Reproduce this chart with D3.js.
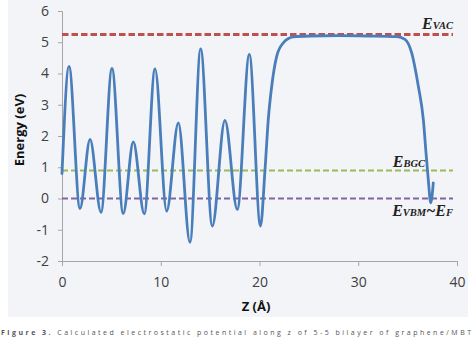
<!DOCTYPE html>
<html><head><meta charset="utf-8">
<script src="https://cdn.jsdelivr.net/npm/d3@7"></script>
<style>body{margin:0;background:#fff;}svg{display:block;}</style>
</head><body>
<svg id="c" width="474" height="337"></svg>
<script>
const zValues = [0,0.71,1.82,2.84,3.95,5.06,6.2,7.22,8.33,9.42,10.6,11.78,12.96,14.04,15.22,16.5,17.75,18.97,20.1,20.56,20.89,21.24,21.74,22.41,23.42,25.1,28,31,33.9,34.73,35.41,36.08,36.59,36.86,37.09,37.34,37.6];
const energyValues = [0.8,4.23,-0.32,1.89,-0.44,4.16,-0.48,1.81,-0.49,4.15,-0.4,2.42,-1.4,4.79,-0.88,2.5,-0.35,4.61,-0.88,0.93,2.53,3.6,4.55,4.98,5.17,5.2,5.21,5.2,5.18,5.09,4.66,3.6,2.53,1.47,0.61,-0.14,0.5];
const levelNames = ["VAC","BGC","VBM"];
const levelValues = [5.25,0.9,0];
const levelColors = ["#c0504d","#9bbb59","#8064a2"];
const xTicks = [0,10,20,30,40];
const yTicks = [-2,-1,0,1,2,3,4,5,6];

const svg = d3.select("#c");
svg.append("rect").attr("x",8).attr("y",0).attr("width",460).attr("height",317).attr("fill","#f3f4f8");

const x = d3.scaleLinear().domain([0,40]).range([62,457]);
const y = d3.scaleLinear().domain([-2,6]).range([261,11]);

const font = "'Open Sans', sans-serif";
// axes
const xa = svg.append("g").attr("transform","translate(0,261)")
  .call(d3.axisBottom(x).tickValues(xTicks).tickSize(5).tickPadding(8).tickFormat(d=>String(d)));
const ya = svg.append("g").attr("transform","translate(62,0)")
  .call(d3.axisLeft(y).tickValues(yTicks).tickSize(4).tickPadding(9).tickFormat(d=>String(d)));
[xa,ya].forEach(a=>{
  a.selectAll("path,line").attr("stroke","#a6a6a6");
  a.selectAll("text").attr("fill","#404040").style("font-family",font).style("font-size","14px");
});
xa.selectAll("text").attr("dy","0.95em");

// reference levels
const lv = levelValues.map((v,i)=>({v,c:levelColors[i],n:levelNames[i]}));
svg.selectAll("line.lvl").data(lv).enter().append("line")
  .attr("x1",x(0)).attr("x2",453)
  .attr("y1",d=>y(d.v)).attr("y2",d=>y(d.v))
  .attr("stroke",d=>d.c)
  .attr("stroke-width",(d,i)=>i===0?3:2)
  .attr("stroke-dasharray",(d,i)=>i===0?"6.5,3":"6,3");

// curve
const pts = zValues.map((z,i)=>[z,energyValues[i]]);
svg.append("path").datum(pts)
  .attr("fill","none").attr("stroke","#4a7ebb").attr("stroke-width",2.8)
  .attr("stroke-linejoin","round").attr("stroke-linecap","round")
  .attr("d",d3.line().x(d=>x(d[0])).y(d=>y(d[1])).curve(d3.curveMonotoneX));

// level labels
function elabel(xr, yb, parts){
  const t = svg.append("text").attr("x",xr).attr("y",yb).attr("text-anchor","end")
    .style("font-family","'Liberation Serif', 'Times New Roman', serif")
    .style("font-style","italic").style("font-weight","bold").attr("fill","#222");
  parts.forEach(p=>t.append("tspan").text(p[0]).style("font-size",p[1]+"px"));
}
elabel(453,29,[["E",16],[levelNames[0],10.5]]);
elabel(425,166.5,[["E",16],[levelNames[1],10.5]]);
elabel(453,216,[["E",16],[levelNames[2],10.5],["~E",16],["F",10.5]]);

// axis titles
svg.append("text").attr("transform","translate(24,130) rotate(-90)").attr("text-anchor","middle")
  .style("font-family",font).style("font-weight","bold").style("font-size","13px").attr("fill","#111")
  .text("Energy (eV)");
svg.append("text").attr("x",256).attr("y",311).attr("text-anchor","middle")
  .style("font-family",font).style("font-weight","bold").style("font-size","13px").attr("fill","#111")
  .text("Z (Å)");

// caption
const cap = svg.append("text").attr("x",1).attr("y",335)
  .attr("textLength",470).attr("lengthAdjust","spacing")
  .style("font-family",font).style("font-size","7px").attr("fill","#555");
cap.append("tspan").style("font-weight","bold").text("Figure 3. ");
cap.append("tspan").text("Calculated electrostatic potential along z of 5-5 bilayer of graphene/MBT");
</script>
</body></html>
